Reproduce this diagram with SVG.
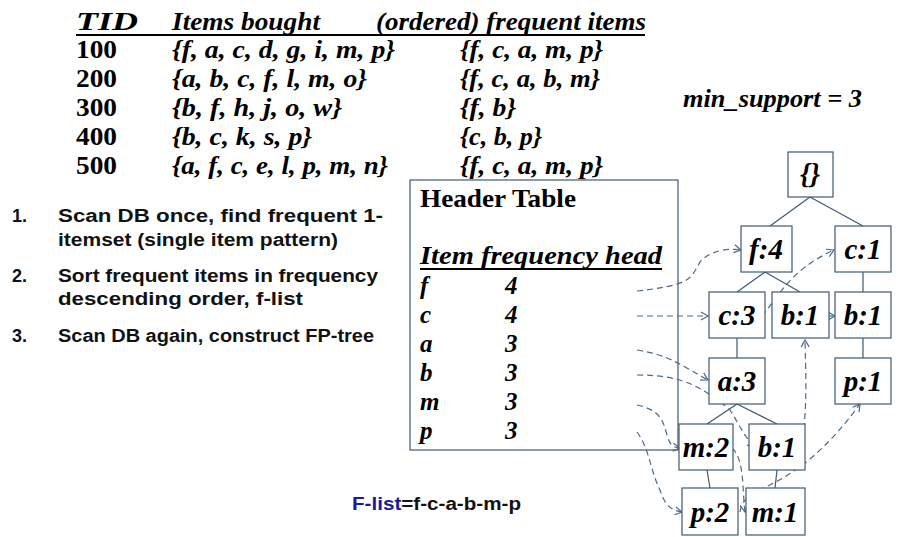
<svg xmlns="http://www.w3.org/2000/svg" width="901" height="537" viewBox="0 0 901 537">
<style>
.t{font-family:"Liberation Serif",serif;font-weight:bold;font-size:25px;fill:#000}
.i{font-style:italic}
.s{font-family:"Liberation Sans",sans-serif;font-weight:bold;font-size:18px;fill:#111}
.n rect{fill:#fff;stroke:#3d5a73;stroke-width:1.2}
.n text{font-family:"Liberation Serif",serif;font-weight:bold;font-style:italic;font-size:29px;text-anchor:middle}
.e{stroke:#3d5a73;stroke-width:1.2;fill:none}
.d{stroke:#4a6a88;stroke-width:1.2;fill:none;stroke-dasharray:6 4;marker-end:url(#a)}
</style>
<defs><marker id="a" markerWidth="10" markerHeight="10" refX="8" refY="5" orient="auto" markerUnits="userSpaceOnUse"><path d="M1,1 L8,5 L1,9" fill="none" stroke="#4a6a88" stroke-width="1.2"/></marker></defs>
<rect width="901" height="537" fill="#fff"/>
<g id="db">
<text class="t i" x="76" y="30" textLength="62" lengthAdjust="spacingAndGlyphs">TID</text>
<text class="t i" x="172" y="30" textLength="148" lengthAdjust="spacingAndGlyphs">Items bought</text>
<text class="t i" x="376" y="30" textLength="270" lengthAdjust="spacingAndGlyphs">(ordered) frequent items</text>
<line x1="76" y1="35" x2="645" y2="35" stroke="#000" stroke-width="2"/>
<text class="t" x="76" y="58" textLength="41" lengthAdjust="spacingAndGlyphs">100</text><text class="t i" x="172" y="58" textLength="223" lengthAdjust="spacingAndGlyphs">{f, a, c, d, g, i, m, p}</text><text class="t i" x="460" y="58" textLength="143" lengthAdjust="spacingAndGlyphs">{f, c, a, m, p}</text>
<text class="t" x="76" y="87" textLength="41" lengthAdjust="spacingAndGlyphs">200</text><text class="t i" x="172" y="87" textLength="195" lengthAdjust="spacingAndGlyphs">{a, b, c, f, l, m, o}</text><text class="t i" x="460" y="87" textLength="140" lengthAdjust="spacingAndGlyphs">{f, c, a, b, m}</text>
<text class="t" x="76" y="116" textLength="41" lengthAdjust="spacingAndGlyphs">300</text><text class="t i" x="172" y="116" textLength="170" lengthAdjust="spacingAndGlyphs">{b, f, h, j, o, w}</text><text class="t i" x="460" y="116" textLength="56" lengthAdjust="spacingAndGlyphs">{f, b}</text>
<text class="t" x="76" y="145" textLength="41" lengthAdjust="spacingAndGlyphs">400</text><text class="t i" x="172" y="145" textLength="140" lengthAdjust="spacingAndGlyphs">{b, c, k, s, p}</text><text class="t i" x="460" y="145" textLength="82" lengthAdjust="spacingAndGlyphs">{c, b, p}</text>
<text class="t" x="76" y="174" textLength="41" lengthAdjust="spacingAndGlyphs">500</text><text class="t i" x="172" y="174" textLength="216" lengthAdjust="spacingAndGlyphs">{a, f, c, e, l, p, m, n}</text><text class="t i" x="460" y="174" textLength="143" lengthAdjust="spacingAndGlyphs">{f, c, a, m, p}</text>
<text class="t i" x="683" y="107" font-size="23" textLength="179" lengthAdjust="spacingAndGlyphs">min_support = 3</text>
</g>
<g id="steps">
<text class="s" x="12" y="222">1.</text><text class="s" x="58" y="222" textLength="325" lengthAdjust="spacingAndGlyphs">Scan DB once, find frequent 1-</text>
<text class="s" x="58" y="246" textLength="280" lengthAdjust="spacingAndGlyphs">itemset (single item pattern)</text>
<text class="s" x="12" y="282">2.</text><text class="s" x="58" y="282" textLength="320" lengthAdjust="spacingAndGlyphs">Sort frequent items in frequency</text>
<text class="s" x="58" y="305" textLength="245" lengthAdjust="spacingAndGlyphs">descending order, f-list</text>
<text class="s" x="12" y="342">3.</text><text class="s" x="58" y="342" textLength="316" lengthAdjust="spacingAndGlyphs">Scan DB again, construct FP-tree</text>
<text class="s" x="352" y="510" font-size="17" textLength="169" lengthAdjust="spacingAndGlyphs"><tspan fill="#1a1a9a">F-list</tspan>=f-c-a-b-m-p</text>
</g>
<g id="header">
<rect x="410" y="180" width="268" height="270" fill="#fff" stroke="#3d5a73" stroke-width="1.2"/>
<text class="t" x="420" y="207" font-size="23" textLength="156" lengthAdjust="spacingAndGlyphs">Header Table</text>
<text class="t i" x="420" y="264" textLength="242" lengthAdjust="spacingAndGlyphs">Item  frequency  head</text>
<line x1="420" y1="269" x2="662" y2="269" stroke="#000" stroke-width="2"/>
<text class="t i" x="420" y="294">f</text><text class="t i" x="505" y="294">4</text>
<text class="t i" x="420" y="323">c</text><text class="t i" x="505" y="323">4</text>
<text class="t i" x="420" y="352">a</text><text class="t i" x="505" y="352">3</text>
<text class="t i" x="420" y="381">b</text><text class="t i" x="505" y="381">3</text>
<text class="t i" x="420" y="410">m</text><text class="t i" x="505" y="410">3</text>
<text class="t i" x="420" y="439">p</text><text class="t i" x="505" y="439">3</text>
</g>
<g id="connectors">
<path class="e" d="M810,197 L770,226 M810,197 L863,226 M765,272 L737,292 M765,272 L800,292 M863,272 L863,292 M737,338 L737,358 M863,338 L863,358 M737,404 L707,424 M737,404 L777,424 M707,470 L710,488 M777,470 L775,488"/>
<path class="d" d="M637,291 C690,285 690,280 700,262 C710,250 730,248 741,250"/>
<path class="d" d="M637,316 L708,316"/>
<path class="d" d="M762,316 C780,295 790,270 834,250"/>
<path class="d" d="M637,350 C670,355 680,365 708,380"/>
<path class="d" d="M637,375 C680,375 700,385 730,410 C740,425 745,440 755,445"/>
<path class="d" d="M637,405 C660,410 663,420 667,435 C670,445 672,447 680,448"/>
<path class="d" d="M637,432 C650,450 650,470 660,490 C665,505 670,510 682,512"/>
<path class="d" d="M798,448 C808,430 806,380 805,340"/>
<path class="d" d="M829,316 L835,316"/>
<path class="d" d="M732,448 C745,460 742,490 745,512"/>
<path class="d" d="M740,512 C745,480 790,500 860,404"/>
</g>
<g id="nodes">
<g class="n" id="root"><rect x="788" y="152" width="45" height="45"/><text x="810" y="184">{}</text></g>
<g class="n" id="f4"><rect x="741" y="226" width="51" height="46"/><text x="766" y="259">f:4</text></g>
<g class="n" id="c1"><rect x="835" y="226" width="56" height="46"/><text x="863" y="259">c:1</text></g>
<g class="n" id="c3"><rect x="709" y="292" width="56" height="46"/><text x="737" y="325">c:3</text></g>
<g class="n" id="b1a"><rect x="772" y="292" width="57" height="46"/><text x="800" y="325">b:1</text></g>
<g class="n" id="b1b"><rect x="835" y="292" width="56" height="46"/><text x="863" y="325">b:1</text></g>
<g class="n" id="a3"><rect x="709" y="358" width="56" height="46"/><text x="737" y="391">a:3</text></g>
<g class="n" id="p1"><rect x="835" y="358" width="56" height="46"/><text x="863" y="391">p:1</text></g>
<g class="n" id="m2"><rect x="679" y="424" width="54" height="46"/><text x="706" y="457">m:2</text></g>
<g class="n" id="b1c"><rect x="749" y="424" width="56" height="46"/><text x="777" y="457">b:1</text></g>
<g class="n" id="p2"><rect x="682" y="488" width="56" height="47"/><text x="710" y="522">p:2</text></g>
<g class="n" id="m1"><rect x="746" y="488" width="59" height="47"/><text x="775" y="522">m:1</text></g>
</g>
</svg>
